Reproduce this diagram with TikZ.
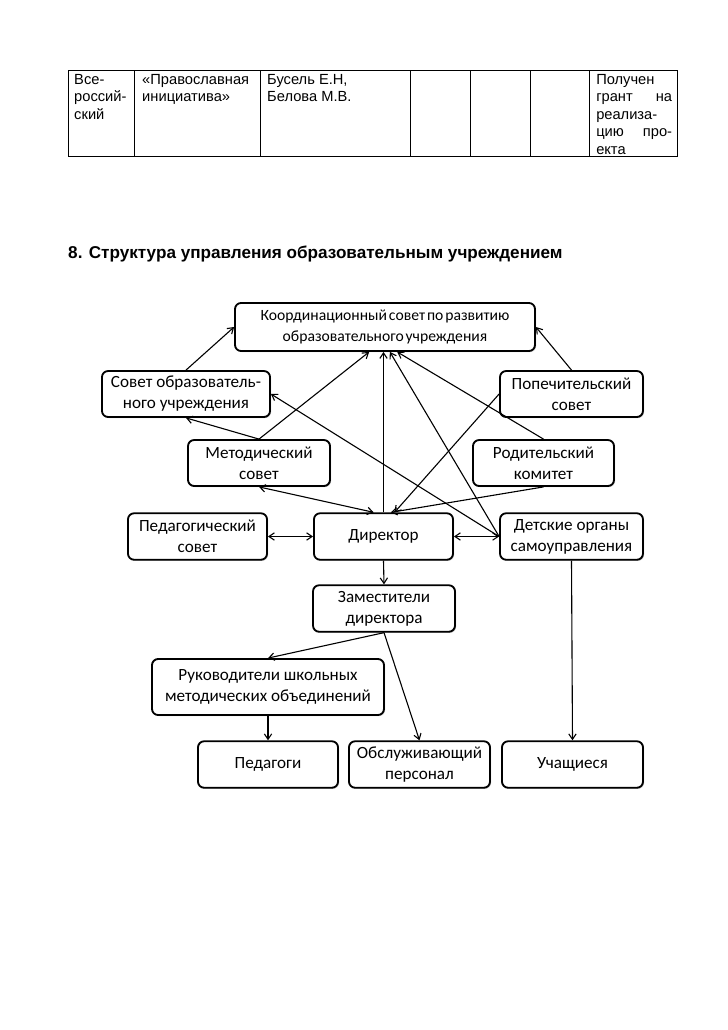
\documentclass[tikz,border=0pt]{standalone}
\usepackage{fontspec}
\setmainfont{Liberation Sans}
\newfontfamily\calibri{Carlito}
\usetikzlibrary{arrows.meta,shadows}

\begin{document}
\begin{tikzpicture}[x=0.8177pt,y=-0.8177pt,
  box/.style={draw,line width=1.5pt,rounded corners=5pt,fill=white,align=center,inner sep=0pt,
    minimum height=38pt,font=\calibri\fontsize{14}{17.2}\selectfont,
    drop shadow={shadow xshift=0.9pt,shadow yshift=-0.9pt,fill=black!40}},
  link/.style={line width=0.9pt,-{Straight Barb[length=4.5pt,width=6pt]}},
  link2/.style={line width=0.9pt,{Straight Barb[length=4.5pt,width=6pt]}-{Straight Barb[length=4.5pt,width=6pt]}},
  cell/.style={anchor=north west,align=left,inner sep=0pt,font=\fontsize{12}{14.3}\selectfont}]
\useasboundingbox[fill=white] (0,0) rectangle (728,1030);

\draw[line width=0.6pt] (68,70) rectangle (677,156);
\foreach \cx in {134,260,410,470,530,589} \draw[line width=0.6pt] (\cx,70) -- (\cx,156);
\node[cell] at (74,74) (c1) {Все-\\россий-\\ский};
\node[cell] at (142,74) (c2) {«Православная\\инициатива»};
\node[cell] at (267,74) (c3) {Бусель Е.Н,\\Белова М.В.};
\node[cell,text width=62pt] at (596,74) (c7) {Получен\\грант\hfill на\\реализа-\\цию\hfill про-\\екта};

\node[anchor=west,inner sep=0pt,font=\bfseries\fontsize{14}{16}\selectfont] at (68,254) (t) {8. Структура управления образовательным учреждением};

\node[box,minimum width=245.3pt,minimum height=39.3pt,font=\calibri\fontsize{12.8}{16.4}\selectfont] at (385,327) (1) {Координационный\hspace{0.12em}совет\hspace{0.12em}по\hspace{0.12em}развитию\\образовательного\hspace{0.12em}учреждения};
\node[box,minimum width=137.4pt,minimum height=37.6pt] at (186,394) (21) {Совет образователь-\\ного учреждения};
\node[box,minimum width=116.9pt,minimum height=37.6pt] at (571.5,394) (22) {Попечительский\\совет};
\node[box,minimum width=116.1pt,minimum height=37.6pt] at (259,463) (31) {Методический\\совет};
\node[box,minimum width=115.3pt,minimum height=37.6pt] at (543.5,463) (32) {Родительский\\комитет};
\node[box,minimum width=113.7pt] at (197.5,536.5) (41) {Педагогический\\совет};
\node[box,minimum width=113.7pt] at (383.5,536.5) (42) {Директор};
\node[box,minimum width=116.9pt] at (571.5,536.5) (43) {Детские органы\\самоуправления};
\node[box,minimum width=116.1pt] at (384,608.5) (5) {Заместители\\директора};
\node[box,minimum width=189.7pt,minimum height=45.8pt] at (268,687) (6) {Руководители школьных\\методических объединений};
\node[box,minimum width=114.5pt] at (268,764.5) (71) {Педагоги};
\node[box,minimum width=115.3pt] at (419.5,764.5) (72) {Обслуживающий\\персонал};
\node[box,minimum width=115.3pt] at (572.5,764.5) (73) {Учащиеся};

\draw[link] (21.north) -- (1.west);
\draw[link] (22.north) -- (1.east);
\draw[link] (31.north) -- ([xshift=-13pt]1.south);
\draw[link] (42.north) -- (42.north |- 1.south);
\draw[link] (43.west) -- ([xshift=4pt]1.south);
\draw[link] (32.north) -- ([xshift=10pt]1.south);
\draw[link] (31.north) -- (21.south);
\draw[link] (43.west) -- (21.east);
\draw[link] (22.west) -- ([xshift=9pt]42.north);
\draw[link] (32.south) -- ([xshift=6pt]42.north);
\draw[link2] (31.south) -- ([xshift=-8pt]42.north);
\draw[link2] (41.east) -- (42.west);
\draw[link2] (42.east) -- (43.west);
\draw[link] (42.south) -- (5.north);
\draw[link] (5.south) -- (6.north);
\draw[link] (5.south) -- (72.north);
\draw[link] (6.south) -- (71.north);
\draw[link] (43.south) -- (73.north);
\end{tikzpicture}
\end{document}
